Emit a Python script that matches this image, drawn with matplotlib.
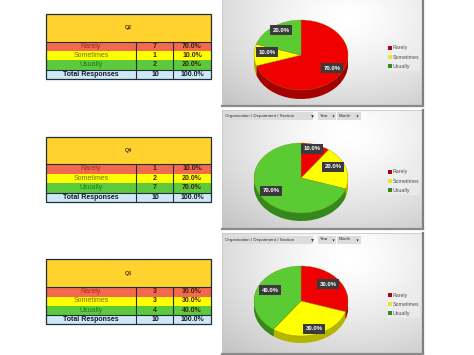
import numpy as np
import matplotlib
matplotlib.use('Agg')
import matplotlib.pyplot as plt
from matplotlib.patches import Rectangle

plt.rcParams['font.family'] = ['Liberation Sans', 'DejaVu Sans']

W, H = 474, 355

categories = ['Rarely', 'Sometimes', 'Usually']
questions = ['Q2', 'Q4', 'Q6']
q2_counts = [7, 1, 2]
q4_counts = [1, 2, 7]
q6_counts = [3, 3, 4]
all_counts = [q2_counts, q4_counts, q6_counts]
total_label = 'Total Responses'
filter_labels = ['Organisation / Department / Section', 'Year', 'Month']

row_colors = ['#F2694F', '#FFFF00', '#5DC93C']
text_colors = ['#A32A20', '#72720C', '#217A21']
pie_colors = ['#F00000', '#FFFF00', '#5ACB32']
side_colors = ['#A50000', '#B5B500', '#35881C']
legend_colors = ['#B00010', '#E8E820', '#35881C']
header_color = '#FFD22E'
total_color = '#CFE8F8'
line_color = '#1E2E3A'

# table y: top, header bottom, row bottoms
table_y = [[14, 42, 51, 60, 70, 79], [137, 164, 173.5, 183, 192.5, 202], [259, 287, 296.5, 305.5, 315, 324]]
# panel top and bottom, pie centre y, legend y
panels = [(-4, 106), (110, 229), (233, 354)]
pie_y = [55, 178, 301]
pie_depth = [9, 8, 7]
legend_y = [48, 172, 295]
bar_y = [116, 239.5]
# label box centres
label_pos = [[(332, 68), (267, 52), (281, 30)],
             [(312, 149), (333, 167), (271, 191)],
             [(328, 284), (314, 329), (270, 290)]]

fig = plt.figure(figsize=(W / 100, H / 100), dpi=100)
ax = fig.add_axes([0, 0, 1, 1])
ax.axis('off')

# tables
for k in range(3):
    ys = table_y[k]
    counts = all_counts[k]
    total = sum(counts)
    ax.add_patch(Rectangle((46, ys[0]), 165, ys[1] - ys[0], fc=header_color, ec='none'))
    ax.text(128.5, (ys[0] + ys[1]) / 2, questions[k], ha='center', va='center', fontsize=3.8, fontweight='bold', color='#3A3010')
    for i in range(3):
        y0, y1 = ys[i + 1], ys[i + 2]
        ym = (y0 + y1) / 2
        ax.add_patch(Rectangle((46, y0), 165, y1 - y0, fc=row_colors[i], ec='none'))
        ax.text(91, ym, categories[i], ha='center', va='center', fontsize=5, color=text_colors[i])
        ax.text(155, ym, str(counts[i]), ha='center', va='center', fontsize=5, fontweight='bold', color='#402010')
        ax.text(192, ym, '%.1f%%' % (100 * counts[i] / total), ha='center', va='center', fontsize=5, fontweight='bold', color='#402010')
    y0, y1 = ys[4], ys[5]
    ym = (y0 + y1) / 2
    ax.add_patch(Rectangle((46, y0), 165, y1 - y0, fc=total_color, ec='none'))
    ax.text(91, ym, total_label, ha='center', va='center', fontsize=5, fontweight='bold', color='#101828')
    ax.text(155, ym, str(total), ha='center', va='center', fontsize=5, fontweight='bold', color='#101828')
    ax.text(192, ym, '100.0%', ha='center', va='center', fontsize=5, fontweight='bold', color='#101828')
    # grid lines
    ax.add_patch(Rectangle((46, ys[0]), 165, ys[5] - ys[0], fc='none', ec=line_color, lw=0.9))
    ax.plot([46, 211], [ys[1], ys[1]], color=line_color, lw=0.8)
    ax.plot([46, 211], [ys[4], ys[4]], color=line_color, lw=0.8)
    ax.plot([136.5, 136.5], [ys[1], ys[5]], color=line_color, lw=0.8)
    ax.plot([173, 173], [ys[1], ys[5]], color=line_color, lw=0.8)

# panels with grey gradient
for k in range(3):
    top, bottom = panels[k]
    xx, yy = np.meshgrid(np.linspace(0, 1, 120), np.linspace(0, 1, 80))
    d = np.sqrt(((xx - 0.62) / 0.8) ** 2 + ((yy - 0.2) / 0.95) ** 2)
    g = np.clip(1.0 - 0.2 * d ** 1.4, 0.76, 1.0)
    ax.imshow(g, extent=(222, 423, bottom, top), cmap='gray', vmin=0, vmax=1, aspect='auto', zorder=1, interpolation='bilinear')
    ax.add_patch(Rectangle((222, top), 201, bottom - top, fc='none', ec='#C8C8C8', lw=0.6, zorder=2))
    ax.plot([423, 423], [top, bottom], color='#7F7F7F', lw=1.6, zorder=2)
    ax.plot([222, 423], [bottom, bottom], color='#8A8A8A', lw=1.6, zorder=2)
ax.set_xlim(0, W)
ax.set_ylim(H, 0)

# filter buttons
for by in bar_y:
    ax.add_patch(Rectangle((223, by - 4), 90, 8, fc='#DCDCDC', ec='none', zorder=3))
    ax.add_patch(Rectangle((318, by - 4), 18, 8, fc='#DCDCDC', ec='none', zorder=3))
    ax.add_patch(Rectangle((337, by - 4), 24, 8, fc='#DCDCDC', ec='none', zorder=3))
    ax.text(225, by, filter_labels[0], ha='left', va='center', fontsize=3.15, color='#303030', zorder=4)
    ax.text(320, by, filter_labels[1], ha='left', va='center', fontsize=3.15, color='#303030', zorder=4)
    ax.text(339, by, filter_labels[2], ha='left', va='center', fontsize=3.15, color='#303030', zorder=4)
    for mx in (333.5, 357):
        ax.plot([mx], [by], marker='v', ms=1.6, color='#303030', mew=0, zorder=4)
    ax.plot([312], [by], marker='v', ms=2, color='#303030', mew=0, zorder=4)

# pies, side layers first and then the top face
rx, ry = 47, 35
for k in range(3):
    cy = pie_y[k]
    depth = pie_depth[k]
    pax = fig.add_axes([(301 - rx) / W, 1 - (cy + ry + depth) / H, 2 * rx / W, (2 * ry + depth) / H], zorder=5)
    for off in np.arange(depth, 0, -1) / ry:
        pax.pie(all_counts[k], colors=side_colors, startangle=90, counterclock=False, center=(0, -off), radius=1)
    pax.pie(all_counts[k], colors=pie_colors, startangle=90, counterclock=False, center=(0, 0), radius=1,
            wedgeprops={'edgecolor': '#8A8A20', 'linewidth': 0.25})
    pax.set_aspect('auto')
    pax.set_xlim(-1, 1)
    pax.set_ylim(-1 - depth / ry, 1)
    pax.axis('off')

    # labels on top of the pies
    total = sum(all_counts[k])
    lax = fig.add_axes([0, 0, 1, 1], zorder=6)
    lax.set_xlim(0, W)
    lax.set_ylim(H, 0)
    lax.axis('off')
    for i in range(3):
        lx, ly = label_pos[k][i]
        lax.text(lx, ly, '%.1f%%' % (100 * all_counts[k][i] / total), ha='center', va='center', fontsize=4.3,
                 fontweight='bold', color='white',
                 bbox={'boxstyle': 'square,pad=0.35', 'fc': '#3A3A3A', 'ec': 'none'})
    # legend
    ly0 = legend_y[k]
    lax.add_patch(Rectangle((387, ly0 - 5), 33, 28, fc='#F0F0F0', ec='none', alpha=0.5))
    for i in range(3):
        lax.plot([390], [ly0 + i * 9.2], marker='s', ms=2.2, color=legend_colors[i], mew=0)
        lax.text(393, ly0 + i * 9.2, categories[i], ha='left', va='center', fontsize=3.8, color='#505050')

fig.savefig('out.png', dpi=100)
